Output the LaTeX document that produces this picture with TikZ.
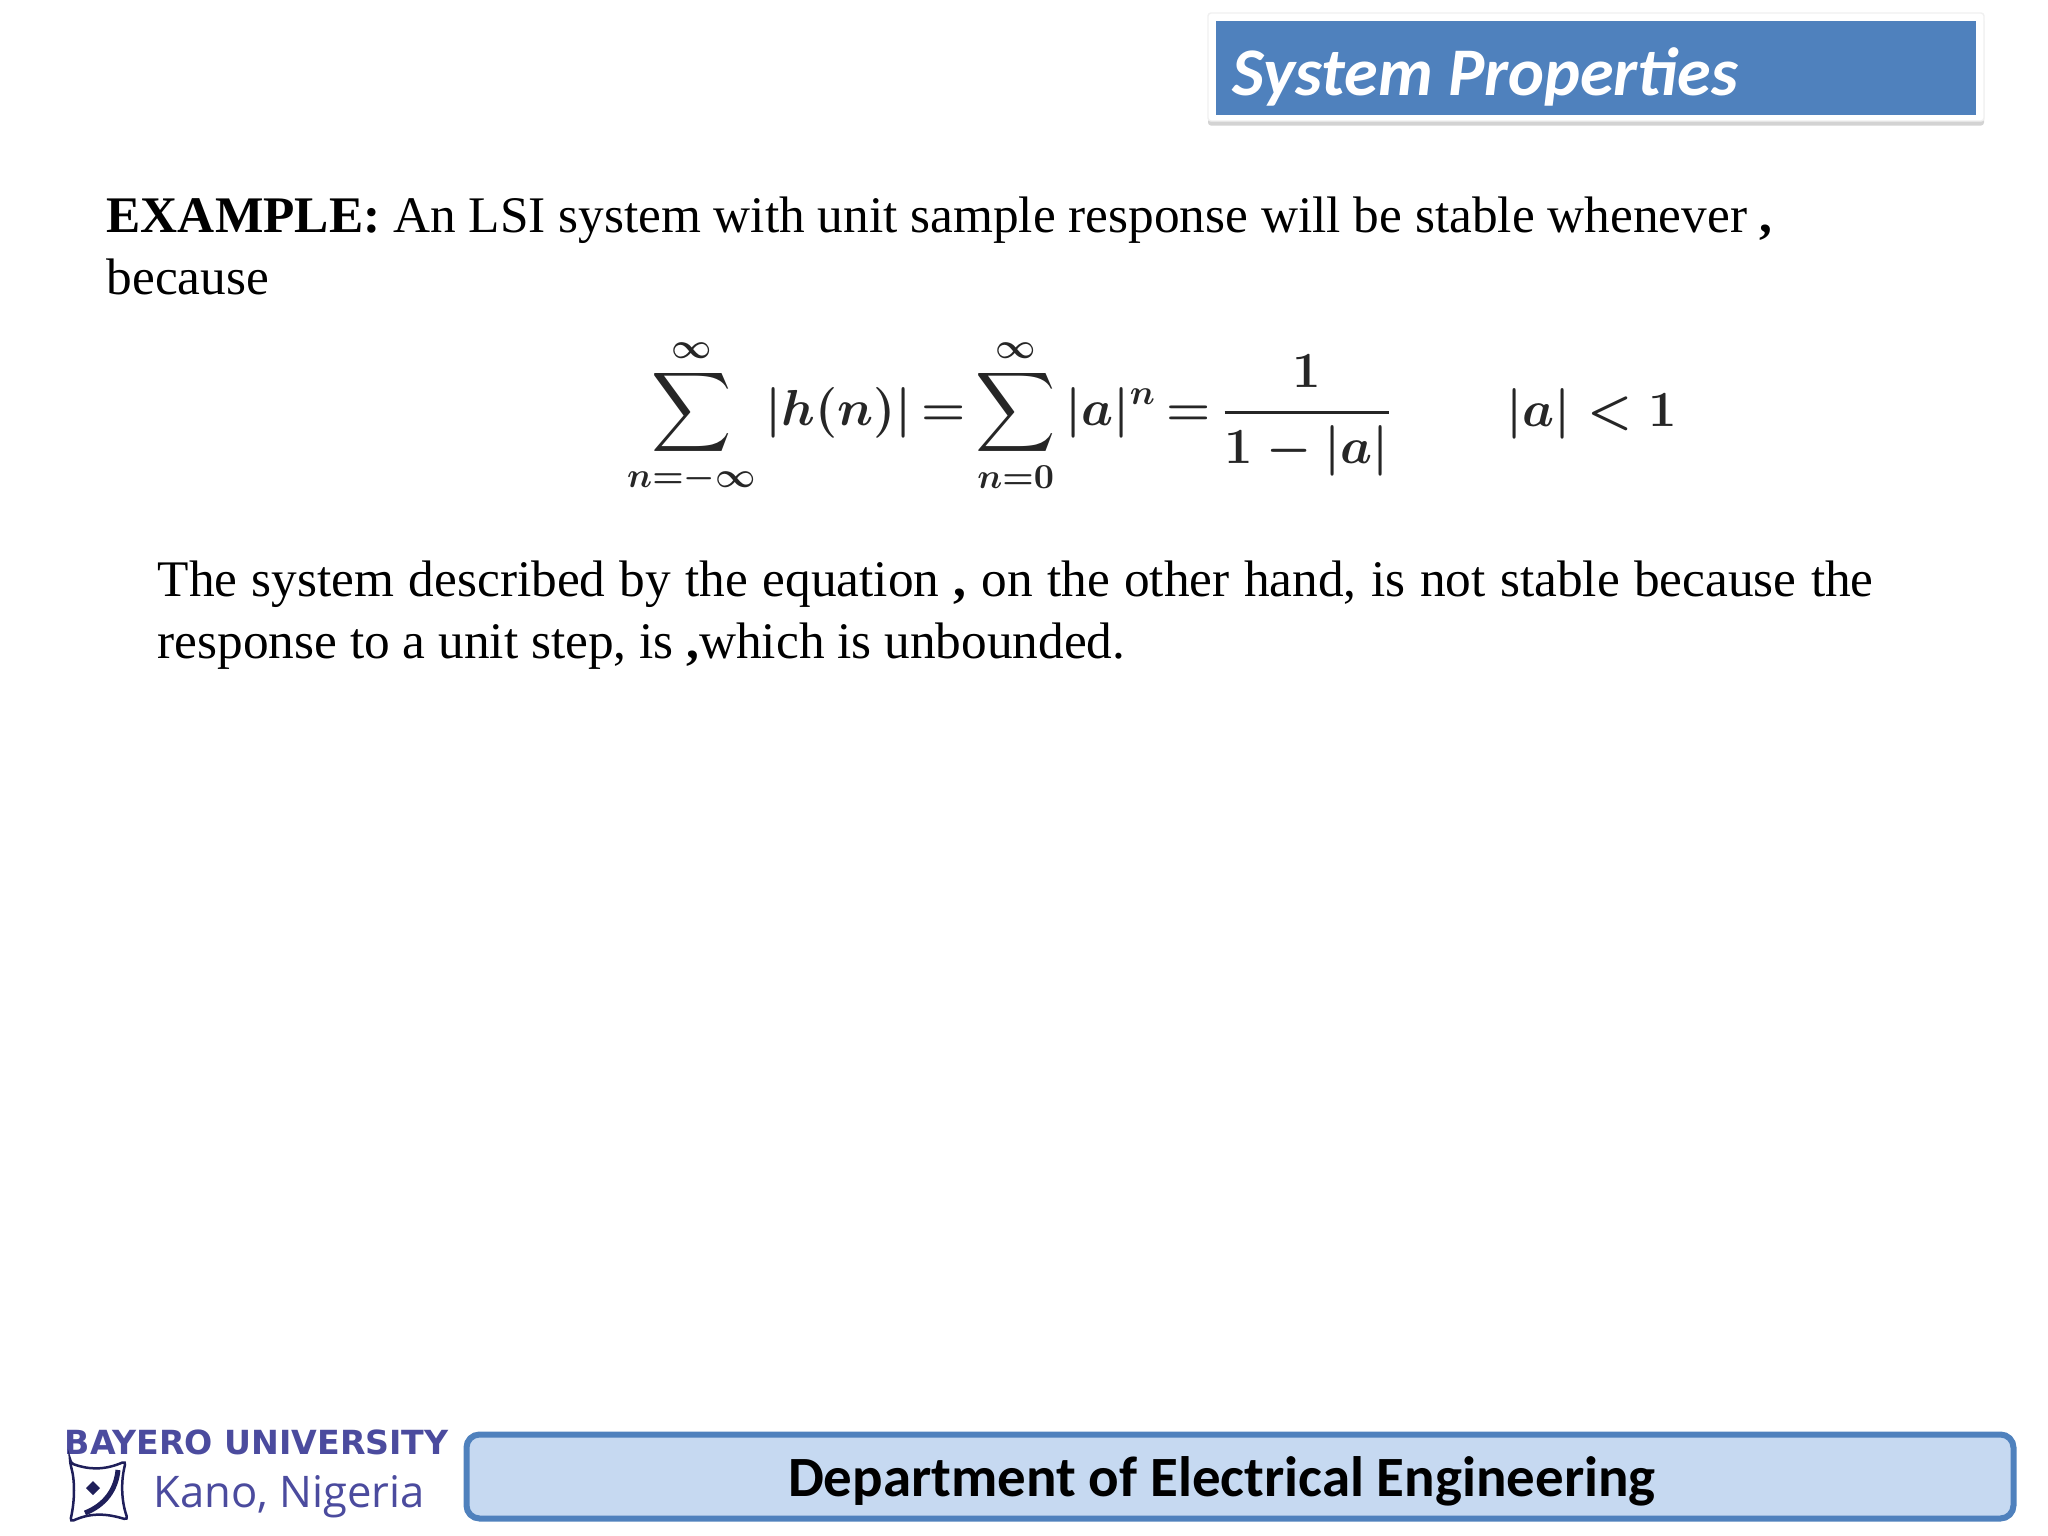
\documentclass[tikz,border=0pt]{standalone}
\usepackage{amsmath}
\usepackage{fontspec}
\setmainfont{Liberation Serif}
\newfontfamily\carlitofont{Carlito}
\newfontfamily\dejavufont{DejaVu Sans}
\newfontfamily\opensansfont{Open Sans}
\usetikzlibrary{shadows}
\definecolor{titleblue}{HTML}{4F81BD}
\definecolor{footfill}{HTML}{C6D9F1}
\definecolor{logoblue}{HTML}{4B4B9E}
\definecolor{logodark}{HTML}{1F1F5A}
\newcommand{\bigsum}{\mathop{\vcenter{\hbox{\scalebox{1.1}{$\displaystyle\sum$}}}}\displaylimits}
\newcommand{\uplim}{\rule[-1pt]{0pt}{0pt}\infty}
\begin{document}
\begin{tikzpicture}[y=-1cm]
\tikzset{bodytext/.style={anchor=base west, inner sep=0pt, font=\fontsize{14.6}{18}\selectfont},
  mathtext/.style={inner sep=0pt, text=black!85, font=\fontsize{13.6}{18}\selectfont\boldmath}}
\useasboundingbox (0, 0) rectangle (20.48, 15.36);
\node[draw=black!6, fill=white, rounded corners=0.03cm, minimum width=7.76cm, minimum height=1.08cm, inner sep=0pt, drop shadow={shadow xshift=0pt, shadow yshift=-1.3pt, opacity=0.35}] (TitleFrame) at (15.96, 0.67) {};
\node[fill=titleblue, minimum width=7.6cm, minimum height=0.94cm, inner sep=0pt] (TitleBox) at (15.96, 0.68) {};
\node[anchor=base west, inner sep=0pt, text=white, font=\carlitofont\bfseries\itshape\fontsize{19.4}{24}\selectfont] (Title) at (12.32, 0.96) {System Properties};
\node[bodytext] (L1) at (1.06, 2.33) {\textbf{EXAMPLE:} An LSI system with unit sample response will be stable whenever \textbf{,}};
\node[bodytext] (L2) at (1.06, 2.95) {because};
\node[bodytext] (L3) at (1.57, 5.97) {\makebox[17.16cm][s]{The system described by the equation \textbf{,} on the other hand, is not stable because the}};
\node[bodytext] (L4) at (1.57, 6.59) {response to a unit step, is \textbf{,}which is unbounded.};
\node[mathtext] (Eq) at (10.1, 4.175) {$\thickmuskip=3mu\relax\displaystyle\bigsum_{n=-\infty}^{\uplim} |h(n)| = \bigsum_{n=0}^{\uplim} |a|^n = \genfrac{}{}{0.9pt}{}{1}{1-|a|}$};
\node[mathtext, anchor=base west, font=\fontsize{13.3}{18}\selectfont\boldmath] (Cond) at (15.06, 4.27) {$|a| < 1$};
\node[draw=titleblue, line width=0.06cm, fill=footfill, rounded corners=0.13cm, minimum width=15.47cm, minimum height=0.84cm, inner sep=0pt] (FootBox) at (12.40, 14.765) {};
\node[anchor=base, inner sep=0pt, font=\carlitofont\bfseries\fontsize{16.2}{18}\selectfont] (Foot) at (12.22, 14.96) {Department of Electrical Engineering};
\node[anchor=base west, inner sep=0pt, text=logoblue, font=\dejavufont\bfseries\fontsize{9.45}{10}\selectfont] (Uni) at (0.64, 14.54) {BAYERO UNIVERSITY};
\node[anchor=base west, inner sep=0pt, text=logoblue, font=\opensansfont\fontsize{12.4}{14}\selectfont] (Kano) at (1.53, 15.07) {Kano, Nigeria};
\draw[logodark, line width=0.025cm, rounded corners=0.04cm] (0.70, 14.63) .. controls (0.9, 14.7) and (1.05, 14.7) .. (1.26, 14.61) .. controls (1.21, 14.8) and (1.21, 15.0) .. (1.28, 15.2) .. controls (1.05, 15.13) and (0.9, 15.13) .. (0.70, 15.22) .. controls (0.75, 15.0) and (0.75, 14.8) .. cycle;
\fill[logodark] (0.93, 14.81) -- (1.0, 14.88) -- (0.93, 14.95) -- (0.86, 14.88) -- cycle;
\draw[logodark, line width=0.05cm] (0.85, 15.13) .. controls (1.05, 15.05) and (1.16, 14.9) .. (1.18, 14.7);
\end{tikzpicture}
\end{document}
